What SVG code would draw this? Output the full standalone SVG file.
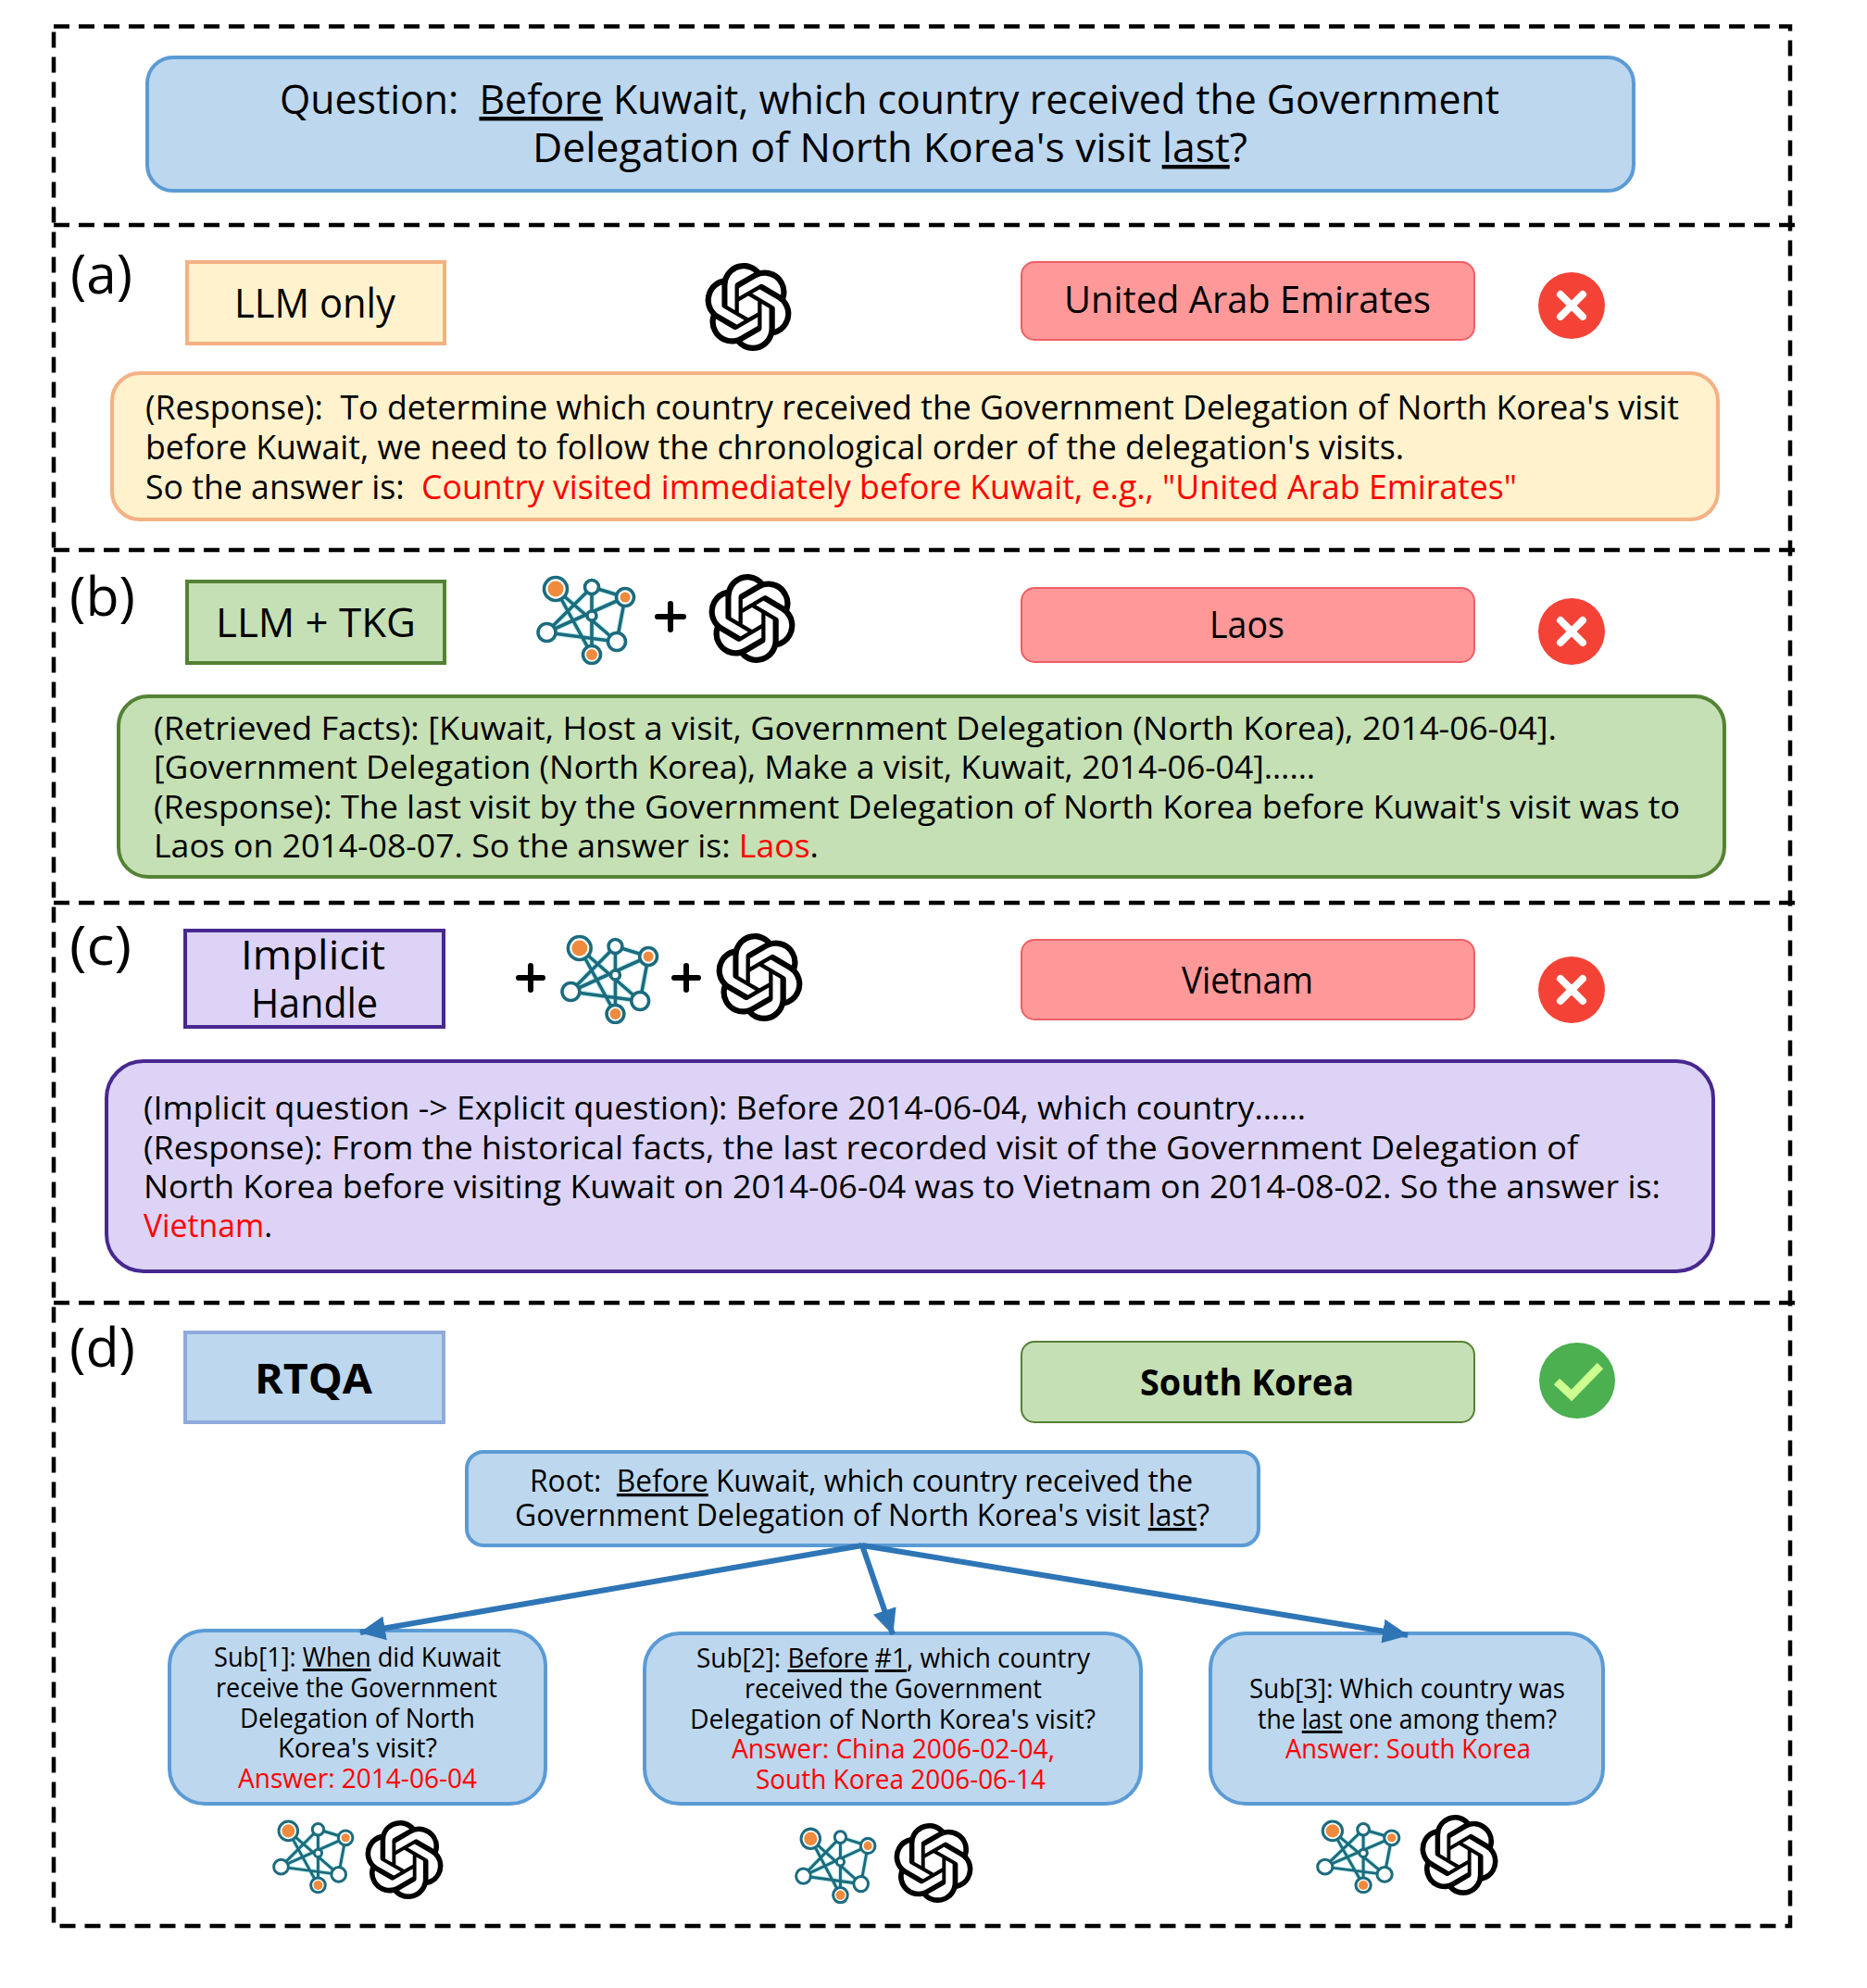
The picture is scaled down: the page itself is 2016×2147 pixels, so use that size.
<svg xmlns="http://www.w3.org/2000/svg" xmlns:xlink="http://www.w3.org/1999/xlink" width="2016" height="2147" viewBox="0 0 2016 2147">
<style>
text{font-family:"Open Sans","Noto Sans",sans-serif;fill:#000;white-space:pre}
.f58{font-size:58px}.f44{font-size:44px}.f40{font-size:40px}.f36{font-size:36px}.f34{font-size:34px}.f32{font-size:32px}.f29{font-size:29px}
.b{font-weight:700}
.r{fill:#f00}
.u{text-decoration:underline}
.dash{fill:none;stroke:#000;stroke-width:4.5;stroke-dasharray:17 10}
.blue{fill:#bdd7ee;stroke:#5b9bd5;stroke-width:4}
.cream{fill:#fff2cc;stroke:#f4b183;stroke-width:4}
.green{fill:#c5e0b4;stroke:#548235;stroke-width:4}
.purple{fill:#dcd3f6;stroke:#47288f;stroke-width:4}
.ans{fill:#ff9999;stroke:#ee5f64;stroke-width:2}
.edge{stroke:#1c6b7e;stroke-width:3.6;fill:none}
.glow{stroke:#8fe3e0;stroke-width:6;fill:none;opacity:.55}
.nw{fill:#fff;stroke:#1c6b7e;stroke-width:3.6}
.no{fill:#f08a3c}
.plus{stroke:#000;stroke-width:6;stroke-linecap:round}
.conn{stroke:#2e75b6;stroke-width:6;fill:none}
</style>
<defs>
<marker id="ah" markerUnits="userSpaceOnUse" markerWidth="28" markerHeight="26" refX="27" refY="13" orient="auto"><path d="M0,0L28,13L0,26Z" fill="#2e75b6"/></marker>
<symbol id="gpt" viewBox="0 0 24 24" preserveAspectRatio="none"><path fill="#000" d="M22.2819 9.8211a5.9847 5.9847 0 0 0-.5157-4.9108 6.0462 6.0462 0 0 0-6.5098-2.9A6.0651 6.0651 0 0 0 4.9807 4.1818a5.9847 5.9847 0 0 0-3.9977 2.9 6.0462 6.0462 0 0 0 .7427 7.0966 5.98 5.98 0 0 0 .511 4.9107 6.051 6.051 0 0 0 6.5146 2.9001A5.9847 5.9847 0 0 0 13.2599 24a6.0557 6.0557 0 0 0 5.7718-4.2058 5.9894 5.9894 0 0 0 3.9977-2.9001 6.0557 6.0557 0 0 0-.7475-7.0729zm-9.022 12.6081a4.4755 4.4755 0 0 1-2.8764-1.0408l.1419-.0804 4.7783-2.7582a.7948.7948 0 0 0 .3927-.6813v-6.7369l2.02 1.1686a.071.071 0 0 1 .038.052v5.5826a4.504 4.504 0 0 1-4.4945 4.4944zm-9.6607-4.1254a4.4708 4.4708 0 0 1-.5346-3.0137l.142.0852 4.783 2.7582a.7712.7712 0 0 0 .7806 0l5.8428-3.3685v2.3324a.0804.0804 0 0 1-.0332.0615L9.74 19.9502a4.4992 4.4992 0 0 1-6.1408-1.6464zM2.3408 7.8956a4.485 4.485 0 0 1 2.3655-1.9728V11.6a.7664.7664 0 0 0 .3879.6765l5.8144 3.3543-2.0201 1.1685a.0757.0757 0 0 1-.071 0l-4.8303-2.7865A4.504 4.504 0 0 1 2.3408 7.872zm16.5963 3.8558L13.1038 8.364 15.1192 7.2a.0757.0757 0 0 1 .071 0l4.8303 2.7913a4.4944 4.4944 0 0 1-.6765 8.1042v-5.6772a.79.79 0 0 0-.407-.667zm2.0107-3.0231l-.142-.0852-4.7735-2.7818a.7759.7759 0 0 0-.7854 0L9.409 9.2297V6.8974a.0662.0662 0 0 1 .0284-.0615l4.8303-2.7866a4.4992 4.4992 0 0 1 6.6802 4.66zM8.3065 12.863l-2.02-1.1638a.0804.0804 0 0 1-.038-.0567V6.0742a4.4992 4.4992 0 0 1 7.3757-3.4537l-.142.0805L8.704 5.459a.7948.7948 0 0 0-.3927.6813zm1.0976-2.3654l2.602-1.4998 2.6069 1.4998v2.9994l-2.5974 1.4997-2.6067-1.4997Z"/></symbol>
<symbol id="net" viewBox="0 0 108 97" preserveAspectRatio="none">
<path class="glow" d="M21,15L60,86M21,15L87,72M60,13L96,24M60,13L11,62M60,13L60,86M96,24L11,62M96,24L87,72M11,62L87,72"/>
<path class="edge" d="M21,15L60,86M21,15L87,72M60,13L96,24M60,13L11,62M60,13L60,86M96,24L11,62M96,24L87,72M11,62L87,72"/>
<circle class="nw" cx="21" cy="15" r="12.5"/><circle class="no" cx="21" cy="15" r="8.5"/>
<circle class="nw" cx="60" cy="13" r="7.5"/>
<circle class="nw" cx="96" cy="24" r="9.5"/><circle class="no" cx="96" cy="24" r="5.5"/>
<circle class="nw" cx="11.5" cy="62" r="9.5"/><circle class="nw" cx="60" cy="44" r="5"/><circle class="nw" cx="87" cy="72" r="9.5"/>
<circle class="nw" cx="60" cy="86" r="9.5"/><circle class="no" cx="60" cy="86" r="6"/>
</symbol>
<g id="cross"><circle r="36" fill="#f44336"/><path d="M-12,-12L12,12M12,-12L-12,12" stroke="#fff" stroke-width="8" stroke-linecap="round"/></g>
</defs>
<rect width="2016" height="2147" fill="#fff"/>
<g id="frame">
<rect class="dash" x="58" y="28.5" width="1875" height="2051.5"/>
<path class="dash" d="M58,243H1938M58,594H1938M58,975H1938M58,1407H1938"/>
</g>
<g id="question">
<rect class="blue" x="159" y="62" width="1605" height="144" rx="28"/>
<text class="f44" x="302" y="123" textLength="1317" lengthAdjust="spacingAndGlyphs">Question:  <tspan class="u">Before</tspan> Kuwait, which country received the Government</text>
<text class="f44" x="575" y="175" textLength="772" lengthAdjust="spacingAndGlyphs">Delegation of North Korea's visit <tspan class="u">last</tspan>?</text>
</g>
<g id="section-a">
<text class="f58" x="76" y="317" textLength="67" lengthAdjust="spacingAndGlyphs">(a)</text>
<g id="a-label"><rect class="cream" x="202" y="283" width="278" height="88"/><text class="f44" x="253" y="343" textLength="174" lengthAdjust="spacingAndGlyphs">LLM only</text></g>
<use id="a-gpt" xlink:href="#gpt" href="#gpt" x="761" y="284" width="94" height="95"/>
<g id="a-answer"><rect class="ans" x="1103" y="283" width="489" height="84" rx="14"/><text class="f40" x="1149" y="338" textLength="396" lengthAdjust="spacingAndGlyphs">United Arab Emirates</text></g>
<use id="a-cross" xlink:href="#cross" href="#cross" x="1697" y="330"/>
<g id="a-response"><rect class="cream" x="121" y="403" width="1734" height="158" rx="30"/>
<text class="f36" x="157" y="453" textLength="1656" lengthAdjust="spacingAndGlyphs">(Response):  To determine which country received the Government Delegation of North Korea's visit</text>
<text class="f36" x="157" y="496" textLength="1359" lengthAdjust="spacingAndGlyphs">before Kuwait, we need to follow the chronological order of the delegation's visits.</text>
<text class="f36" x="157" y="539" textLength="1481" lengthAdjust="spacingAndGlyphs">So the answer is:  <tspan class="r">Country visited immediately before Kuwait, e.g., "United Arab Emirates"</tspan></text>
</g>
</g>
<g id="section-b">
<text class="f58" x="75" y="665" textLength="71" lengthAdjust="spacingAndGlyphs">(b)</text>
<g id="b-label"><rect class="green" x="202" y="628" width="278" height="88"/><text class="f44" x="233" y="688" textLength="216" lengthAdjust="spacingAndGlyphs">LLM + TKG</text></g>
<use id="b-net" xlink:href="#net" href="#net" x="579" y="621" width="108" height="97"/>
<path class="plus" d="M710,666H738M724,652V680"/>
<use id="b-gpt" xlink:href="#gpt" href="#gpt" x="765" y="620" width="94" height="96"/>
<g id="b-answer"><rect class="ans" x="1103" y="635" width="489" height="80" rx="14"/><text class="f40" x="1306" y="689" textLength="81" lengthAdjust="spacingAndGlyphs">Laos</text></g>
<use id="b-cross" xlink:href="#cross" href="#cross" x="1697" y="682"/>
<g id="b-response"><rect class="green" x="128" y="752" width="1734" height="195" rx="32"/>
<text class="f34" x="166" y="799" textLength="1515" lengthAdjust="spacingAndGlyphs">(Retrieved Facts): [Kuwait, Host a visit, Government Delegation (North Korea), 2014-06-04].</text>
<text class="f34" x="166" y="841" textLength="1254" lengthAdjust="spacingAndGlyphs">[Government Delegation (North Korea), Make a visit, Kuwait, 2014-06-04]……</text>
<text class="f34" x="166" y="884" textLength="1648" lengthAdjust="spacingAndGlyphs">(Response): The last visit by the Government Delegation of North Korea before Kuwait's visit was to</text>
<text class="f34" x="166" y="926" textLength="718" lengthAdjust="spacingAndGlyphs">Laos on 2014-08-07. So the answer is: <tspan class="r">Laos</tspan>.</text>
</g>
</g>
<g id="section-c">
<text class="f58" x="75" y="1042" textLength="67" lengthAdjust="spacingAndGlyphs">(c)</text>
<g id="c-label"><rect class="purple" x="200" y="1005" width="279" height="104"/><text class="f44" x="260" y="1047" textLength="156" lengthAdjust="spacingAndGlyphs">Implicit</text><text class="f44" x="271" y="1099" textLength="137" lengthAdjust="spacingAndGlyphs">Handle</text></g>
<path class="plus" d="M560,1056H586M573,1043V1069"/>
<use id="c-net" xlink:href="#net" href="#net" x="605" y="1009" width="107" height="97"/>
<path class="plus" d="M728,1056H754M741,1043V1069"/>
<use id="c-gpt" xlink:href="#gpt" href="#gpt" x="773" y="1008" width="94" height="95"/>
<g id="c-answer"><rect class="ans" x="1103" y="1015" width="489" height="86" rx="14"/><text class="f40" x="1276" y="1073" textLength="142" lengthAdjust="spacingAndGlyphs">Vietnam</text></g>
<use id="c-cross" xlink:href="#cross" href="#cross" x="1697" y="1069"/>
<g id="c-response"><rect class="purple" x="115" y="1146" width="1735" height="227" rx="40"/>
<text class="f34" x="155" y="1209" textLength="1255" lengthAdjust="spacingAndGlyphs">(Implicit question -&gt; Explicit question): Before 2014-06-04, which country……</text>
<text class="f34" x="155" y="1252" textLength="1549" lengthAdjust="spacingAndGlyphs">(Response): From the historical facts, the last recorded visit of the Government Delegation of</text>
<text class="f34" x="155" y="1294" textLength="1638" lengthAdjust="spacingAndGlyphs">North Korea before visiting Kuwait on 2014-06-04 was to Vietnam on 2014-08-02. So the answer is:</text>
<text class="f34" x="155" y="1336" textLength="139" lengthAdjust="spacingAndGlyphs"><tspan class="r">Vietnam</tspan>.</text>
</g>
</g>
<g id="section-d">
<text class="f58" x="75" y="1476" textLength="71" lengthAdjust="spacingAndGlyphs">(d)</text>
<g id="d-label"><rect class="blue" style="stroke:#8faadc" x="200" y="1439" width="279" height="97"/><text class="f44 b" x="275" y="1505" textLength="127" lengthAdjust="spacingAndGlyphs">RTQA</text></g>
<g id="d-answer"><rect class="green" style="stroke-width:2" x="1103" y="1449" width="489" height="87" rx="14"/><text class="f40 b" x="1231" y="1507" textLength="231" lengthAdjust="spacingAndGlyphs">South Korea</text></g>
<g id="d-check"><circle cx="1703" cy="1491" r="41" fill="#4caf50"/><path d="M1681,1492L1697,1507L1728,1475" fill="none" stroke="#ccff90" stroke-width="9"/></g>
<g id="root"><rect class="blue" x="504" y="1568" width="855" height="101" rx="18"/>
<text class="f32" x="572" y="1611" textLength="716" lengthAdjust="spacingAndGlyphs">Root:  <tspan class="u">Before</tspan> Kuwait, which country received the</text>
<text class="f32" x="556" y="1648" textLength="750" lengthAdjust="spacingAndGlyphs">Government Delegation of North Korea's visit <tspan class="u">last</tspan>?</text>
</g>
<g id="sub1"><rect class="blue" x="183" y="1761" width="406" height="187" rx="38"/>
<text class="f29" x="231" y="1800" textLength="310" lengthAdjust="spacingAndGlyphs">Sub[1]: <tspan class="u">When</tspan> did Kuwait</text>
<text class="f29" x="233" y="1833" textLength="304" lengthAdjust="spacingAndGlyphs">receive the Government</text>
<text class="f29" x="259" y="1866" textLength="254" lengthAdjust="spacingAndGlyphs">Delegation of North</text>
<text class="f29" x="300" y="1898" textLength="172" lengthAdjust="spacingAndGlyphs">Korea's visit?</text>
<text class="f29 r" x="257" y="1931" textLength="258" lengthAdjust="spacingAndGlyphs">Answer: 2014-06-04</text>
</g>
<g id="sub2"><rect class="blue" x="696" y="1764" width="536" height="184" rx="38"/>
<text class="f29" x="752" y="1801" textLength="425" lengthAdjust="spacingAndGlyphs">Sub[2]: <tspan class="u">Before</tspan> <tspan class="u">#1</tspan>, which country</text>
<text class="f29" x="804" y="1834" textLength="321" lengthAdjust="spacingAndGlyphs">received the Government</text>
<text class="f29" x="745" y="1867" textLength="438" lengthAdjust="spacingAndGlyphs">Delegation of North Korea's visit?</text>
<text class="f29 r" x="790" y="1899" textLength="349" lengthAdjust="spacingAndGlyphs">Answer: China 2006-02-04,</text>
<text class="f29 r" x="816" y="1932" textLength="313" lengthAdjust="spacingAndGlyphs">South Korea 2006-06-14</text>
</g>
<g id="sub3"><rect class="blue" x="1307" y="1764" width="424" height="184" rx="38"/>
<text class="f29" x="1349" y="1834" textLength="341" lengthAdjust="spacingAndGlyphs">Sub[3]: Which country was</text>
<text class="f29" x="1358" y="1867" textLength="323" lengthAdjust="spacingAndGlyphs">the <tspan class="u">last</tspan> one among them?</text>
<text class="f29 r" x="1388" y="1899" textLength="265" lengthAdjust="spacingAndGlyphs">Answer: South Korea</text>
</g>
<use id="s1-net" xlink:href="#net" href="#net" x="294" y="1965" width="89" height="80"/>
<use id="s1-gpt" xlink:href="#gpt" href="#gpt" x="394" y="1966" width="85" height="85"/>
<use id="s2-net" xlink:href="#net" href="#net" x="858" y="1973" width="89" height="83"/>
<use id="s2-gpt" xlink:href="#gpt" href="#gpt" x="965" y="1969" width="86" height="86"/>
<use id="s3-net" xlink:href="#net" href="#net" x="1421" y="1965" width="92" height="80"/>
<use id="s3-gpt" xlink:href="#gpt" href="#gpt" x="1533" y="1960" width="85" height="87"/>
</g>
<g id="connectors">
<path class="conn" marker-end="url(#ah)" d="M931,1669L389,1763"/>
<path class="conn" marker-end="url(#ah)" d="M931,1669L964,1765"/>
<path class="conn" marker-end="url(#ah)" d="M931,1669L1520,1766"/>
</g>
</svg>
